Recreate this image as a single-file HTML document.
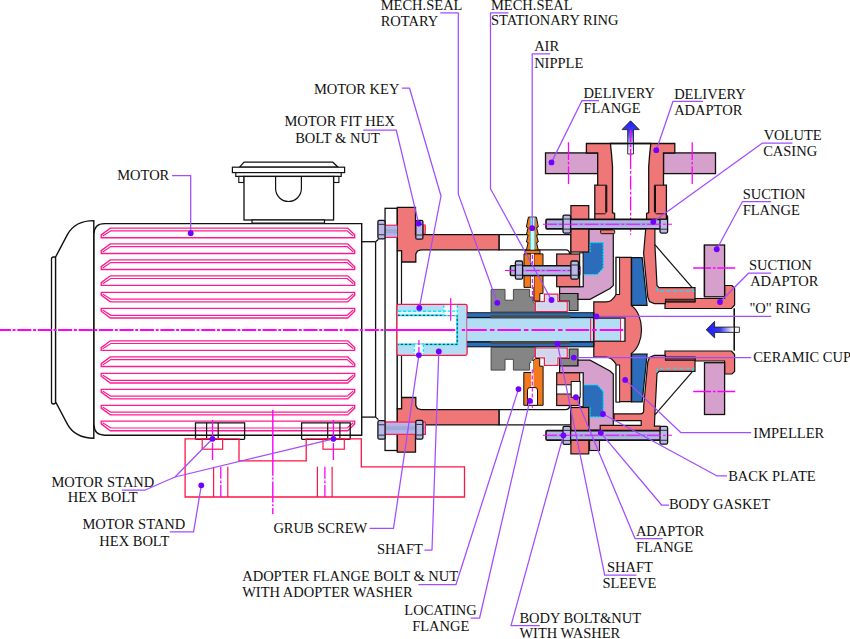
<!DOCTYPE html>
<html><head><meta charset="utf-8"><style>
html,body{margin:0;padding:0;background:#fff;}
svg{display:block;}
text{font-family:"Liberation Serif",serif;font-size:14.5px;fill:#111;}
</style></head><body>
<svg width="850" height="639" viewBox="0 0 850 639">
<rect x="0" y="0" width="850" height="639" fill="#fff"/>
<defs>
<linearGradient id="gb" x1="0" y1="0" x2="0" y2="1">
<stop offset="0" stop-color="#B9B9EE"/><stop offset="0.3" stop-color="#B3B3EA"/><stop offset="0.42" stop-color="#9AA6D2"/>
<stop offset="0.5" stop-color="#A9A9E0"/><stop offset="0.58" stop-color="#9AA6D2"/><stop offset="0.7" stop-color="#B3B3EA"/><stop offset="1" stop-color="#B9B9EE"/>
</linearGradient></defs>
<path d="M51.5,402 L51.5,259 Q51.5,257 53.5,257 L55.6,257 L55.6,402 Q55.6,404 53.5,404 Q51.5,404 51.5,402 Z" fill="#fff" stroke="#111" stroke-width="1.3" />
<path d="M55.6,257 L67.5,234.4 C72.5,225.5 82,220.6 93.8,220.6 L93.8,438.2 L93.8,438.2 C82,438.2 72.5,433.3 67.5,424.4 L55.6,401.8 Z" fill="#fff" stroke="#111" stroke-width="1.4" />
<path d="M94,234.2 Q94,223.6 104.6,223.6 L361.7,223.6 L361.7,435.2 L104.6,435.2 Q94,435.2 94,424.6 Z" fill="#fff" stroke="#111" stroke-width="1.4" />
<polygon points="110.3,228.1 347.8,228.1 354.7,234.9 354.7,237.7 101.2,237.7 101.2,234.9" fill="none" stroke="#FF1A90" stroke-width="1.35" />
<polyline points="102.6,236.1 110.9,230.8 347.2,230.8 353.3,236.1" fill="none" stroke="#FF1A90" stroke-width="1.2" />
<polygon points="110.3,430.7 347.8,430.7 354.7,423.9 354.7,421.1 101.2,421.1 101.2,423.9" fill="none" stroke="#FF1A90" stroke-width="1.35" />
<polyline points="102.6,422.7 110.9,428 347.2,428 353.3,422.7" fill="none" stroke="#FF1A90" stroke-width="1.2" />
<polygon points="110.3,243.9 347.8,243.9 354.7,250.7 354.7,253.5 101.2,253.5 101.2,250.7" fill="none" stroke="#FF1A90" stroke-width="1.35" />
<polyline points="102.6,251.9 110.9,246.6 347.2,246.6 353.3,251.9" fill="none" stroke="#FF1A90" stroke-width="1.2" />
<polygon points="110.3,414.9 347.8,414.9 354.7,408.1 354.7,405.3 101.2,405.3 101.2,408.1" fill="none" stroke="#FF1A90" stroke-width="1.35" />
<polyline points="102.6,406.9 110.9,412.2 347.2,412.2 353.3,406.9" fill="none" stroke="#FF1A90" stroke-width="1.2" />
<polygon points="110.3,259.9 347.8,259.9 354.7,266.7 354.7,269.5 101.2,269.5 101.2,266.7" fill="none" stroke="#FF1A90" stroke-width="1.35" />
<polyline points="102.6,267.9 110.9,262.6 347.2,262.6 353.3,267.9" fill="none" stroke="#FF1A90" stroke-width="1.2" />
<polygon points="110.3,398.9 347.8,398.9 354.7,392.1 354.7,389.3 101.2,389.3 101.2,392.1" fill="none" stroke="#FF1A90" stroke-width="1.35" />
<polyline points="102.6,390.9 110.9,396.2 347.2,396.2 353.3,390.9" fill="none" stroke="#FF1A90" stroke-width="1.2" />
<polygon points="110.3,275.8 347.8,275.8 354.7,282.6 354.7,285.4 101.2,285.4 101.2,282.6" fill="none" stroke="#FF1A90" stroke-width="1.35" />
<polyline points="102.6,283.8 110.9,278.5 347.2,278.5 353.3,283.8" fill="none" stroke="#FF1A90" stroke-width="1.2" />
<polygon points="110.3,383 347.8,383 354.7,376.2 354.7,373.4 101.2,373.4 101.2,376.2" fill="none" stroke="#FF1A90" stroke-width="1.35" />
<polyline points="102.6,375 110.9,380.3 347.2,380.3 353.3,375" fill="none" stroke="#FF1A90" stroke-width="1.2" />
<polygon points="110.3,301.9 347.8,301.9 354.7,295.1 354.7,292.3 101.2,292.3 101.2,295.1" fill="none" stroke="#FF1A90" stroke-width="1.35" />
<polyline points="102.6,293.9 110.9,299.2 347.2,299.2 353.3,293.9" fill="none" stroke="#FF1A90" stroke-width="1.2" />
<polygon points="110.3,356.9 347.8,356.9 354.7,363.7 354.7,366.5 101.2,366.5 101.2,363.7" fill="none" stroke="#FF1A90" stroke-width="1.35" />
<polyline points="102.6,364.9 110.9,359.6 347.2,359.6 353.3,364.9" fill="none" stroke="#FF1A90" stroke-width="1.2" />
<polygon points="110.3,318 347.8,318 354.7,311.2 354.7,308.4 101.2,308.4 101.2,311.2" fill="none" stroke="#FF1A90" stroke-width="1.35" />
<polyline points="102.6,310 110.9,315.3 347.2,315.3 353.3,310" fill="none" stroke="#FF1A90" stroke-width="1.2" />
<polygon points="110.3,340.8 347.8,340.8 354.7,347.6 354.7,350.4 101.2,350.4 101.2,347.6" fill="none" stroke="#FF1A90" stroke-width="1.35" />
<polyline points="102.6,348.8 110.9,343.5 347.2,343.5 353.3,348.8" fill="none" stroke="#FF1A90" stroke-width="1.2" />
<path d="M244.1,162.2 L332.8,162.2 L338.1,167.2 L239.5,167.2 Z" fill="#fff" stroke="#111" stroke-width="1.2" />
<rect x="232.4" y="167.2" width="112.2" height="5.4" rx="0" fill="#fff" stroke="#111" stroke-width="1.2" />
<rect x="235.8" y="172.6" width="105.4" height="3.8" rx="0" fill="#fff" stroke="#111" stroke-width="1.2" />
<rect x="238.8" y="176.4" width="5.2" height="6.1" rx="0" fill="#fff" stroke="#111" stroke-width="1.1" />
<rect x="333.6" y="176.4" width="5.3" height="6.1" rx="0" fill="#fff" stroke="#111" stroke-width="1.1" />
<rect x="244" y="176.4" width="89.6" height="43.6" rx="0" fill="#fff" stroke="#111" stroke-width="1.3" />
<path d="M275.6,176.4 L275.6,188.6 A12.9,12.9 0 0 0 301.4,188.6 L301.4,176.4" fill="none" stroke="#111" stroke-width="1.2" />
<rect x="252" y="220" width="72.5" height="3.1" rx="0" fill="#fff" stroke="#111" stroke-width="1.2" />
<path d="M195.5,439.3 L195.5,422.8 L244.6,422.8 L244.6,439.3" fill="none" stroke="#111" stroke-width="1.3" />
<line x1="206.6" y1="422.8" x2="206.6" y2="439.3" stroke="#111" stroke-width="1.2" />
<line x1="218.2" y1="422.8" x2="218.2" y2="439.3" stroke="#111" stroke-width="1.2" />
<line x1="195.5" y1="439.3" x2="244.6" y2="439.3" stroke="#111" stroke-width="1.2" />
<path d="M301.6,439.3 L301.6,422.8 L350.2,422.8 L350.2,439.3" fill="none" stroke="#111" stroke-width="1.3" />
<line x1="327.7" y1="422.8" x2="327.7" y2="439.3" stroke="#111" stroke-width="1.2" />
<line x1="339.9" y1="422.8" x2="339.9" y2="439.3" stroke="#111" stroke-width="1.2" />
<line x1="301.6" y1="439.3" x2="350.2" y2="439.3" stroke="#111" stroke-width="1.2" />
<polygon points="185.1,438.8 239,438.8 239,460.8 306.2,460.8 306.2,438.8 361.3,438.8 361.3,466.8 464.5,466.8 464.5,497 185.1,497" fill="none" stroke="#FF1446" stroke-width="1.3" />
<rect x="202.2" y="438.8" width="20.4" height="10.4" rx="0" fill="none" stroke="#FF1446" stroke-width="1.2" />
<rect x="323" y="438.8" width="21.3" height="10.4" rx="0" fill="none" stroke="#FF1446" stroke-width="1.2" />
<line x1="213.6" y1="466.8" x2="213.6" y2="497" stroke="#FF1446" stroke-width="1.2" />
<line x1="227.8" y1="466.8" x2="227.8" y2="497" stroke="#FF1446" stroke-width="1.2" />
<line x1="317.4" y1="466.8" x2="317.4" y2="497" stroke="#FF1446" stroke-width="1.2" />
<line x1="332.1" y1="466.8" x2="332.1" y2="497" stroke="#FF1446" stroke-width="1.2" />
<line x1="220.8" y1="466.8" x2="220.8" y2="497" stroke="#FF00FF" stroke-width="1.3" stroke-dasharray="12.00 1.8 2.6 1.8 17.00"/>
<line x1="324.9" y1="466.8" x2="324.9" y2="497" stroke="#FF00FF" stroke-width="1.3" stroke-dasharray="12.00 1.8 2.6 1.8 17.00"/>
<line x1="212.5" y1="420" x2="212.5" y2="460" stroke="#FF00FF" stroke-width="1.3" stroke-dasharray="16.90 1.8 2.6 1.8 21.90"/>
<line x1="333.4" y1="420" x2="333.4" y2="460" stroke="#FF00FF" stroke-width="1.3" stroke-dasharray="16.90 1.8 2.6 1.8 21.90"/>
<line x1="272.8" y1="409.8" x2="272.8" y2="513.9" stroke="#FF00FF" stroke-width="1.4" stroke-dasharray="66 1.8 2 1.8 21 1.8 2 1.8"/>
<line x1="361.7" y1="241.7" x2="375.6" y2="241.7" stroke="#111" stroke-width="1.3" />
<line x1="361.7" y1="417.1" x2="375.6" y2="417.1" stroke="#111" stroke-width="1.3" />
<line x1="375.6" y1="241.7" x2="378.5" y2="239.2" stroke="#111" stroke-width="1.2" />
<line x1="375.6" y1="417.1" x2="378.5" y2="419.6" stroke="#111" stroke-width="1.2" />
<line x1="375.6" y1="241.7" x2="375.6" y2="417.1" stroke="#111" stroke-width="1.3" />
<rect x="385.05" y="208.3" width="12.25" height="242.2" rx="0" fill="#fff" stroke="#111" stroke-width="1.3" />
<polygon points="397.3,207.3 415.5,207.3 415.5,234.6 499.2,234.6 499.2,249.8 421,249.8 417.5,251 415.8,254 415.8,262 401.5,262 401.5,250.8 397.3,250.8" fill="#F07777" stroke="#111" stroke-width="1.3" />
<polygon points="397.3,452.2 415.5,452.2 415.5,424.9 499.2,424.9 499.2,409.7 421,409.7 417.5,408.5 415.8,405.5 415.8,397.5 401.5,397.5 401.5,408.7 397.3,408.7" fill="#F07777" stroke="#111" stroke-width="1.3" />
<rect x="397.3" y="250.8" width="4.2" height="157.9" rx="0" fill="#fff" stroke="#111" stroke-width="1.2" />
<path d="M499.2,234.6 L570.9,234.6 L570.9,253.9 L569.6,253.9 Q569.6,249.8 565.5,249.8 L499.2,249.8 Z" fill="#fff" stroke="#111" stroke-width="1.3" />
<path d="M499.2,424.9 L570.9,424.9 L570.9,405.6 L569.6,405.6 Q569.6,409.7 565.5,409.7 L499.2,409.7 Z" fill="#fff" stroke="#111" stroke-width="1.3" />
<rect x="385.05" y="225.2" width="12.25" height="12.2" rx="0" fill="url(#gb)" stroke="none" stroke-width="0" />
<line x1="385.05" y1="225.2" x2="397.3" y2="225.2" stroke="#FF1446" stroke-width="1.1" />
<line x1="385.05" y1="237.4" x2="397.3" y2="237.4" stroke="#FF1446" stroke-width="1.1" />
<rect x="422.9" y="224.9" width="2.5" height="8.7" rx="0" fill="#F07777" stroke="#FF1446" stroke-width="0.8" />
<rect x="385.05" y="422.1" width="12.25" height="12.2" rx="0" fill="url(#gb)" stroke="none" stroke-width="0" />
<line x1="385.05" y1="434.3" x2="397.3" y2="434.3" stroke="#FF1446" stroke-width="1.1" />
<line x1="385.05" y1="422.1" x2="397.3" y2="422.1" stroke="#FF1446" stroke-width="1.1" />
<rect x="422.9" y="425.9" width="2.5" height="8.7" rx="0" fill="#F07777" stroke="#FF1446" stroke-width="0.8" />
<rect x="385.05" y="422.1" width="40.35" height="12.2" rx="0" fill="url(#gb)" stroke="#FF1446" stroke-width="1.1" />
<rect x="377.9" y="220.3" width="7.15" height="18.5" rx="1.5" fill="#B9B9EA" stroke="#111" stroke-width="1.3" />
<line x1="378.4" y1="224.37" x2="384.55" y2="224.37" stroke="#222" stroke-width="0.9" />
<line x1="378.4" y1="234.73" x2="384.55" y2="234.73" stroke="#222" stroke-width="0.9" />
<rect x="377.9" y="420.7" width="7.15" height="18.5" rx="1.5" fill="#B9B9EA" stroke="#111" stroke-width="1.3" />
<line x1="378.4" y1="424.77" x2="384.55" y2="424.77" stroke="#222" stroke-width="0.9" />
<line x1="378.4" y1="435.13" x2="384.55" y2="435.13" stroke="#222" stroke-width="0.9" />
<rect x="415.8" y="220.3" width="7.1" height="18.9" rx="1.5" fill="#B9B9EA" stroke="#111" stroke-width="1.3" />
<line x1="416.3" y1="224.46" x2="422.4" y2="224.46" stroke="#222" stroke-width="0.9" />
<line x1="416.3" y1="235.04" x2="422.4" y2="235.04" stroke="#222" stroke-width="0.9" />
<rect x="415.8" y="420.3" width="7.1" height="18.9" rx="1.5" fill="#B9B9EA" stroke="#111" stroke-width="1.3" />
<line x1="416.3" y1="424.46" x2="422.4" y2="424.46" stroke="#222" stroke-width="0.9" />
<line x1="416.3" y1="435.04" x2="422.4" y2="435.04" stroke="#222" stroke-width="0.9" />
<rect x="397" y="304.3" width="70.1" height="51" rx="1.8" fill="#B2DDF4" stroke="#FF1446" stroke-width="1.3" />
<rect x="397.8" y="315.3" width="59.4" height="29" rx="0" fill="#fff" stroke="none" stroke-width="0" />
<rect x="397.8" y="311.2" width="45.4" height="4.1" rx="0" fill="#E6F6FB" stroke="none" stroke-width="0" />
<line x1="397.8" y1="311.2" x2="443.2" y2="311.2" stroke="#12E0FF" stroke-width="1.6" stroke-dasharray="3.5 1.5"/>
<polyline points="397.8,315.3 457.2,315.3 457.2,344.3 397.8,344.3" fill="none" stroke="#12E0FF" stroke-width="1.8" />
<polyline points="397.8,315.3 457.2,315.3 457.2,344.3 397.8,344.3" fill="none" stroke="#222" stroke-width="1.0" stroke-dasharray="2 2.2"/>
<rect x="443.2" y="304.9" width="14.8" height="10.4" rx="0" fill="#F0FAFD" stroke="none" stroke-width="0" />
<line x1="443.8" y1="304.9" x2="443.8" y2="315.3" stroke="#12E0FF" stroke-width="1.3" stroke-dasharray="3 1.5"/>
<line x1="457.4" y1="304.9" x2="457.4" y2="315.3" stroke="#12E0FF" stroke-width="1.3" stroke-dasharray="3 1.5"/>
<line x1="443.2" y1="311.2" x2="458" y2="311.2" stroke="#12E0FF" stroke-width="1.2" stroke-dasharray="3 1.5"/>
<rect x="413.6" y="344.3" width="10.4" height="10.4" rx="0" fill="#F0FAFD" stroke="none" stroke-width="0" />
<line x1="414.2" y1="344.3" x2="414.2" y2="354.7" stroke="#12E0FF" stroke-width="1.3" stroke-dasharray="3 1.5"/>
<line x1="423.4" y1="344.3" x2="423.4" y2="354.7" stroke="#12E0FF" stroke-width="1.3" stroke-dasharray="3 1.5"/>
<line x1="450.7" y1="298" x2="450.7" y2="320.8" stroke="#FF00FF" stroke-width="1.2" />
<line x1="418.9" y1="340" x2="418.9" y2="355" stroke="#FF00FF" stroke-width="1.2" stroke-dasharray="5 2"/>
<rect x="467.1" y="312.2" width="126.7" height="35.1" rx="0" fill="#111" stroke="none" stroke-width="0" />
<rect x="467.1" y="313.2" width="126.7" height="3.7" rx="0" fill="#2B6DBA" stroke="none" stroke-width="0" />
<rect x="467.1" y="342.6" width="126.7" height="3.7" rx="0" fill="#2B6DBA" stroke="none" stroke-width="0" />
<rect x="467.1" y="318.4" width="126.7" height="22.7" rx="0" fill="#B2DDF4" stroke="none" stroke-width="0" />
<line x1="467.1" y1="318.6" x2="593.8" y2="318.6" stroke="#8DF" stroke-width="0.6" />
<rect x="490.6" y="315.3" width="79.6" height="3" rx="0" fill="#4a4a4a" stroke="none" stroke-width="0" />
<rect x="490.6" y="341.2" width="79.6" height="3" rx="0" fill="#4a4a4a" stroke="none" stroke-width="0" />
<polygon points="491.1,289.4 505,289.4 505,300.2 513.4,300.2 513.4,289.4 529.6,289.4 529.6,297 533,297 533,302 535.7,304 535.7,312 491.1,312" fill="#858585" stroke="#4a4a4a" stroke-width="1.0" />
<polygon points="491.1,370.1 505,370.1 505,359.3 513.4,359.3 513.4,370.1 529.6,370.1 529.6,362.5 533,362.5 533,357.5 535.7,355.5 535.7,347.5 491.1,347.5" fill="#858585" stroke="#4a4a4a" stroke-width="1.0" />
<polygon points="559.6,293.5 578,293.5 578,310.5 569.2,310.5 569.2,301 559.6,301" fill="#858585" stroke="#222" stroke-width="1.1" />
<polygon points="559.6,366 578,366 578,349 569.2,349 569.2,358.5 559.6,358.5" fill="#858585" stroke="#222" stroke-width="1.1" />
<polygon points="535.3,301.6 544.4,301.6 544.4,294.2 557.9,294.2 557.9,301.6 567.2,301.6 567.2,311.5 535.3,311.5" fill="#D4D4EC" stroke="#FF1446" stroke-width="1.2" />
<polygon points="535.3,357.9 544.4,357.9 544.4,365.3 557.9,365.3 557.9,357.9 567.2,357.9 567.2,348 535.3,348" fill="#D4D4EC" stroke="#FF1446" stroke-width="1.2" />
<polygon points="536.6,302.9 545.7,302.9 545.7,295.5 556.6,295.5 556.6,302.9 565.9,302.9 565.9,310.2 536.6,310.2" fill="none" stroke="#BDF3FA" stroke-width="0.8" />
<polygon points="536.6,356.6 545.7,356.6 545.7,364 556.6,364 556.6,356.6 565.9,356.6 565.9,349.3 536.6,349.3" fill="none" stroke="#BDF3FA" stroke-width="0.8" />
<polygon points="588.75,229.4 611.9,229.4 613.3,231.5 613.3,285.5 610,288.5 590,299.4 578,299.4 578,293.5 559.6,293.5 559.6,286.7 583.1,286.7 583.1,252 588.75,252" fill="#D5A0CB" stroke="#111" stroke-width="1.2" />
<polygon points="588.75,430.1 611.9,430.1 613.3,428 613.3,374 610,371 590,360.1 578,360.1 578,366 559.6,366 559.6,372.8 583.1,372.8 583.1,407.5 588.75,407.5" fill="#D5A0CB" stroke="#111" stroke-width="1.2" />
<rect x="589.6" y="440" width="9.9" height="10.5" rx="0" fill="#D5A0CB" stroke="#111" stroke-width="1.1" />
<polygon points="590,242.6 603.3,242.6 603.3,268 597.5,274.6 583.5,274.6 583.5,252 590,252" fill="#2B6DBA" stroke="none" stroke-width="0" />
<polyline points="590,252 590,242.6 603.3,242.6 603.3,268 597.5,274.6 583.5,274.6" fill="none" stroke="#12E0FF" stroke-width="1.3" stroke-dasharray="2 1"/>
<polygon points="590,416.9 603.3,416.9 603.3,391.5 597.5,384.9 583.5,384.9 583.5,407.5 590,407.5" fill="#2B6DBA" stroke="none" stroke-width="0" />
<polyline points="590,407.5 590,416.9 603.3,416.9 603.3,391.5 597.5,384.9 583.5,384.9" fill="none" stroke="#12E0FF" stroke-width="1.3" stroke-dasharray="2 1"/>
<rect x="570.9" y="205.6" width="17.85" height="46.4" rx="0" fill="#F07777" stroke="#111" stroke-width="1.2" />
<rect x="570.9" y="407.5" width="17.85" height="46.4" rx="0" fill="#F07777" stroke="#111" stroke-width="1.2" />
<rect x="556.7" y="254" width="23" height="32.7" rx="0" fill="#F07777" stroke="#111" stroke-width="1.2" />
<rect x="556.7" y="372.8" width="23" height="32.7" rx="0" fill="#F07777" stroke="#111" stroke-width="1.2" />
<rect x="579.7" y="252.9" width="3.4" height="33.8" rx="0" fill="#fff" stroke="#111" stroke-width="1.0" />
<rect x="579.7" y="372.8" width="3.4" height="33.8" rx="0" fill="#fff" stroke="#111" stroke-width="1.0" />
<rect x="556.7" y="384.8" width="14.5" height="9.2" rx="0" fill="#fff" stroke="#111" stroke-width="1.0" />
<rect x="571.2" y="381.5" width="9" height="15.8" rx="0" fill="#fff" stroke="#111" stroke-width="1.0" />
<path d="M528.4,217.1 L536.4,217.1 L538.3,227 L536.6,227.6 L538.3,234.5 L536.6,235.1 L538.3,242 L536.6,242.6 L538.3,250.2 L526.4,250.2 L528.1,242.6 L526.4,242 L528.1,235.1 L526.4,234.5 L528.1,227.6 L526.4,227 Z" fill="#F27A1C" stroke="#111" stroke-width="1.0" />
<rect x="530.3" y="217.5" width="4.3" height="32.5" rx="0" fill="#D8FAFF" stroke="none" stroke-width="0" />
<line x1="530.5" y1="217.5" x2="530.5" y2="250" stroke="#12E0FF" stroke-width="0.9" />
<line x1="534.4" y1="217.5" x2="534.4" y2="250" stroke="#12E0FF" stroke-width="0.9" />
<rect x="525.1" y="250.2" width="14.9" height="3.7" rx="0" fill="#F27A1C" stroke="#111" stroke-width="1.0" />
<path d="M524,253.9 L531,253.9 L531,287.4 L524,287.4 Z" fill="#F27A1C" stroke="#111" stroke-width="1.0" />
<path d="M533.9,253.9 L543,253.9 L543,293.6 L539.8,293.6 L539.8,301 L533.9,301 Z" fill="#F27A1C" stroke="#111" stroke-width="1.0" />
<rect x="531" y="253.9" width="2.9" height="33.1" rx="0" fill="#E8FCFF" stroke="none" stroke-width="0" />
<line x1="532.4" y1="255" x2="532.4" y2="300" stroke="#FF00FF" stroke-width="1.1" stroke-dasharray="4 2"/>
<path d="M533.5,360.2 L535.5,358.5 L539.7,358.5 L539.7,366.2 L543.1,366.2 L543.1,405.3 L523.8,405.3 L523.8,372.5 L533.5,372.5 Z" fill="#F27A1C" stroke="#111" stroke-width="1.0" />
<rect x="531.2" y="361" width="2.3" height="27" rx="0" fill="#fff" stroke="none" stroke-width="0" />
<path d="M527.5,405.3 L527.5,390 Q527.5,387.5 530,387.5 L535,387.5 Q537.5,387.5 537.5,390 L537.5,405.3 Z" fill="#fff" stroke="#111" stroke-width="1.0" />
<line x1="532.3" y1="369.4" x2="532.3" y2="408" stroke="#FF00FF" stroke-width="1.1" stroke-dasharray="4 2"/>
<rect x="510.4" y="265.7" width="69.3" height="9.7" rx="1" fill="url(#gb)" stroke="#111" stroke-width="1.5" />
<line x1="505" y1="270.5" x2="581" y2="270.5" stroke="#FF00FF" stroke-width="1.1" stroke-dasharray="14 2 2.8 2"/>
<rect x="515.4" y="261" width="7.2" height="18.2" rx="1.5" fill="#B9B9EA" stroke="#111" stroke-width="1.3" />
<line x1="515.9" y1="265" x2="522.1" y2="265" stroke="#222" stroke-width="0.9" />
<line x1="515.9" y1="275.2" x2="522.1" y2="275.2" stroke="#222" stroke-width="0.9" />
<rect x="570.9" y="261" width="7.5" height="18.2" rx="1.5" fill="#B9B9EA" stroke="#111" stroke-width="1.3" />
<line x1="571.4" y1="265" x2="577.9" y2="265" stroke="#222" stroke-width="0.9" />
<line x1="571.4" y1="275.2" x2="577.9" y2="275.2" stroke="#222" stroke-width="0.9" />
<line x1="630.6" y1="155" x2="630.6" y2="234.8" stroke="#FF00FF" stroke-width="1.3" stroke-dasharray="14 2 2.8 2"/>
<rect x="546" y="219.4" width="116" height="9.5" rx="1" fill="url(#gb)" stroke="#111" stroke-width="1.6" />
<rect x="563" y="215.1" width="7.6" height="18" rx="1.5" fill="#B9B9EA" stroke="#111" stroke-width="1.3" />
<line x1="563.5" y1="219.06" x2="570.1" y2="219.06" stroke="#222" stroke-width="0.9" />
<line x1="563.5" y1="229.14" x2="570.1" y2="229.14" stroke="#222" stroke-width="0.9" />
<rect x="660" y="215.3" width="7.6" height="17.8" rx="1.5" fill="#B9B9EA" stroke="#111" stroke-width="1.3" />
<line x1="660.5" y1="219.22" x2="667.1" y2="219.22" stroke="#222" stroke-width="0.9" />
<line x1="660.5" y1="229.18" x2="667.1" y2="229.18" stroke="#222" stroke-width="0.9" />
<line x1="543" y1="224.2" x2="672" y2="224.2" stroke="#FF00FF" stroke-width="1.1" stroke-dasharray="14 2 2.8 2"/>
<rect x="546" y="430.6" width="116" height="9.5" rx="1" fill="url(#gb)" stroke="#111" stroke-width="1.6" />
<rect x="563" y="426.4" width="7.6" height="18" rx="1.5" fill="#B9B9EA" stroke="#111" stroke-width="1.3" />
<line x1="563.5" y1="430.36" x2="570.1" y2="430.36" stroke="#222" stroke-width="0.9" />
<line x1="563.5" y1="440.44" x2="570.1" y2="440.44" stroke="#222" stroke-width="0.9" />
<rect x="660" y="426.4" width="7.6" height="17.8" rx="1.5" fill="#B9B9EA" stroke="#111" stroke-width="1.3" />
<line x1="660.5" y1="430.32" x2="667.1" y2="430.32" stroke="#222" stroke-width="0.9" />
<line x1="660.5" y1="440.28" x2="667.1" y2="440.28" stroke="#222" stroke-width="0.9" />
<line x1="543" y1="435.3" x2="672" y2="435.3" stroke="#FF00FF" stroke-width="1.1" stroke-dasharray="14 2 2.8 2"/>
<rect x="600.6" y="229.9" width="14.1" height="3.8" rx="1" fill="#F07777" stroke="#111" stroke-width="1.0" />
<polygon points="665,298.5 724.6,298.5 724.6,285.5 732,285.5 734.6,288 734.6,305 731.5,308.5 665,308.5" fill="#F07777" stroke="#111" stroke-width="1.2" />
<polygon points="665,361 724.6,361 724.6,374 732,374 734.6,371.5 734.6,354.5 731.5,351 665,351" fill="#F07777" stroke="#111" stroke-width="1.2" />
<polygon points="645.7,229 654.9,229 654.9,244.7 657,285.5 659,287.7 695,287.7 695,301.8 665.4,301.8 665.4,303.6 654.2,303.6 649.5,301.5 647.8,297 643.6,253.2" fill="#F07777" stroke="#111" stroke-width="1.2" />
<path d="M647.8,362 L643.7,405.8 L643.7,410.5 Q643.7,413.9 640.3,413.9 L614,413.9 L614,420.6 L641.2,420.6 L641.2,425.4 L600.2,425.4 L600.2,430.4 L660,430.4 L660,426.2 L654.4,426.2 L654.9,414.3 L657,373.5 L659,371.3 L695,371.3 L695,357.2 L665.4,357.2 L665.4,355.4 L654.2,355.4 L649.5,357.5 Z" fill="#F07777" stroke="#111" stroke-width="1.2" />
<rect x="665.4" y="299.2" width="29.6" height="2.6" rx="0" fill="#7a3a3a" stroke="#111" stroke-width="0.9" />
<rect x="665.4" y="357.7" width="29.6" height="2.6" rx="0" fill="#7a3a3a" stroke="#111" stroke-width="0.9" />
<line x1="654.9" y1="244.7" x2="692.2" y2="287.7" stroke="#111" stroke-width="1.2" />
<line x1="654.9" y1="414.8" x2="692.2" y2="371.8" stroke="#111" stroke-width="1.2" />
<polyline points="657,287.3 657.5,291.2 693.6,291.2 692,287.9" fill="none" stroke="#12E0FF" stroke-width="1.3" stroke-dasharray="4 2.5"/>
<polyline points="657,372.2 657.5,368.3 693.6,368.3 692,371.6" fill="none" stroke="#12E0FF" stroke-width="1.3" stroke-dasharray="4 2.5"/>
<path d="M616.1,257.4 L631.3,257.4 L631.3,305.5 C638,310 641.5,320 641.5,329.5 C641.5,339 638,349 631.3,353.5 L631.3,401.6 L616.1,401.6 L616.1,364.5 Q612,357.1 606,357.1 L593.8,357.1 L593.8,301.9 L606,301.9 Q612,301.9 616.1,294.5 Z" fill="#F07777" stroke="#111" stroke-width="1.2" />
<rect x="616.1" y="257.4" width="3.5" height="37.1" rx="0" fill="#fff" stroke="#111" stroke-width="1.0" />
<rect x="616.1" y="365" width="3.5" height="37.1" rx="0" fill="#fff" stroke="#111" stroke-width="1.0" />
<polygon points="631.6,257.7 642.2,257.7 647.1,305.3 631.6,305.3" fill="#2B6DBA" stroke="#111" stroke-width="1.2" />
<polygon points="631.6,401.8 642.2,401.8 647.1,354.2 631.6,354.2" fill="#2B6DBA" stroke="#111" stroke-width="1.2" />
<rect x="593.8" y="318.1" width="31.2" height="23.1" rx="0" fill="#B2DDF4" stroke="#111" stroke-width="1.2" />
<rect x="621" y="318.8" width="2.6" height="21.8" rx="0" fill="#fff" stroke="none" stroke-width="0" />
<line x1="590.6" y1="318.4" x2="590.6" y2="341" stroke="#FF1446" stroke-width="1.0" />
<line x1="594.4" y1="318.4" x2="594.4" y2="341" stroke="#FF1446" stroke-width="1.0" />
<line x1="620.6" y1="318.4" x2="620.6" y2="341" stroke="#FF1446" stroke-width="1.0" />
<line x1="593.8" y1="312.2" x2="593.8" y2="318.1" stroke="#111" stroke-width="1.2" />
<line x1="593.8" y1="341.2" x2="593.8" y2="346.8" stroke="#111" stroke-width="1.2" />
<rect x="545.5" y="152.9" width="52.2" height="20.7" rx="0" fill="#D5A0CB" stroke="#111" stroke-width="1.3" />
<rect x="663.5" y="152.9" width="52" height="20.7" rx="0" fill="#D5A0CB" stroke="#111" stroke-width="1.3" />
<polygon points="650.8,143.5 674.8,143.5 674.8,153 663.5,153 663.5,185.2 666.4,185.2 666.4,219.1 646.6,219.1 646.6,213.4 648.7,212.7 648.7,166.8 649.6,155" fill="#F07777" stroke="#111" stroke-width="1.3" />
<polygon points="610.4,143.5 586.4,143.5 586.4,153 597.7,153 597.7,185.2 594.8,185.2 594.8,219.1 614.6,219.1 614.6,213.4 612.5,212.7 612.5,166.8 611.6,155" fill="#F07777" stroke="#111" stroke-width="1.3" />
<polyline points="663.5,185.2 654.4,185.2 654.4,212 656.5,213.8 666.4,213.8" fill="none" stroke="#111" stroke-width="1.0" />
<line x1="655.2" y1="185.5" x2="655.2" y2="212" stroke="#111" stroke-width="1.6" />
<polyline points="597.7,185.2 606.8,185.2 606.8,212 604.7,213.8 594.8,213.8" fill="none" stroke="#111" stroke-width="1.0" />
<line x1="606" y1="185.5" x2="606" y2="212" stroke="#111" stroke-width="1.6" />
<line x1="610.4" y1="143.5" x2="650.8" y2="143.5" stroke="#111" stroke-width="1.3" />
<line x1="674.8" y1="143.5" x2="690" y2="143.5" stroke="#111" stroke-width="0.0" />
<line x1="568.5" y1="142.2" x2="568.5" y2="184" stroke="#FF00FF" stroke-width="1.3" stroke-dasharray="17.80 1.8 2.6 1.8 22.80"/>
<line x1="692.2" y1="142.2" x2="692.2" y2="184" stroke="#FF00FF" stroke-width="1.3" stroke-dasharray="17.80 1.8 2.6 1.8 22.80"/>
<rect x="704.5" y="245" width="20.1" height="51.8" rx="0" fill="#D5A0CB" stroke="#111" stroke-width="1.3" />
<rect x="704.5" y="362.7" width="20.1" height="51.8" rx="0" fill="#D5A0CB" stroke="#111" stroke-width="1.3" />
<line x1="693.2" y1="268" x2="735.2" y2="268" stroke="#FF00FF" stroke-width="1.3" stroke-dasharray="17.90 1.8 2.6 1.8 22.90"/>
<line x1="693.2" y1="391.5" x2="735.2" y2="391.5" stroke="#FF00FF" stroke-width="1.3" stroke-dasharray="17.90 1.8 2.6 1.8 22.90"/>
<line x1="734.3" y1="308.5" x2="734.3" y2="350.5" stroke="#111" stroke-width="1.3" />
<line x1="704.3" y1="244.7" x2="704.3" y2="296.8" stroke="#111" stroke-width="1.2" />
<defs>
<linearGradient id="gu" x1="0" y1="0" x2="0" y2="1"><stop offset="0" stop-color="#2020F2"/><stop offset="0.3" stop-color="#3A3AF2"/><stop offset="0.65" stop-color="#A8A8F8"/><stop offset="1" stop-color="#FFFFFF"/></linearGradient>
<linearGradient id="gl" x1="0" y1="0" x2="1" y2="0"><stop offset="0" stop-color="#1A1AF5"/><stop offset="0.42" stop-color="#3A3AF2"/><stop offset="0.82" stop-color="#FFFFFF"/><stop offset="1" stop-color="#FFFFFF"/></linearGradient>
</defs>
<path d="M630.6,120.8 L639.2,129.6 L633.5,129.6 L633.5,154 L627.7,154 L627.7,129.6 L622,129.6 Z" fill="url(#gu)" stroke="#222" stroke-width="0.9" />
<line x1="610.4" y1="143.5" x2="650.8" y2="143.5" stroke="#111" stroke-width="1.3" />
<line x1="630.6" y1="130" x2="630.6" y2="156" stroke="#FF00FF" stroke-width="1.3" stroke-dasharray="12 2 3 2"/>
<path d="M706.2,329.7 L714.6,321.3 L714.6,327.1 L739.4,327.1 L739.4,332.4 L714.6,332.4 L714.6,337.9 Z" fill="url(#gl)" stroke="#222" stroke-width="0.9" />
<line x1="734.3" y1="308.5" x2="734.3" y2="350.5" stroke="#111" stroke-width="1.3" />
<line x1="0" y1="329.9" x2="384.2" y2="329.9" stroke="#FF00FF" stroke-width="2.0" stroke-dasharray="14.1 1.7 2.9 1.74" stroke-dashoffset="3.17"/>
<line x1="386.1" y1="329.9" x2="455.3" y2="329.9" stroke="#FF00FF" stroke-width="2.0" />
<line x1="461.9" y1="329.9" x2="624" y2="329.9" stroke="#FF00FF" stroke-width="2.0" stroke-dasharray="3.3 1.7 19.9 3.1 4.6 2.9 23.5 3 4.6 3 23.5 3 4.6 3 23.5 3 4.6 3 23.5 3 4.6 3 23.5 3 4.6 3 23.5"/>
<polyline points="172.1,175.5 190.7,175.5 190.7,233.2" fill="none" stroke="#A24CFF" stroke-width="1.25" stroke-linejoin="round"/>
<polyline points="402,88 409.5,88 441,196 419.3,307.9" fill="none" stroke="#A24CFF" stroke-width="1.25" stroke-linejoin="round"/>
<polyline points="363.25,130 396.25,130 418.7,223.6" fill="none" stroke="#A24CFF" stroke-width="1.25" stroke-linejoin="round"/>
<polyline points="440.25,12.8 458.3,12.8 458.3,194.1 497.3,302.8" fill="none" stroke="#A24CFF" stroke-width="1.25" stroke-linejoin="round"/>
<polyline points="508.4,12.8 490.5,12.8 490.5,188.7 551.5,300" fill="none" stroke="#A24CFF" stroke-width="1.25" stroke-linejoin="round"/>
<polyline points="550.25,53.75 532.2,53.75 532.2,228.2" fill="none" stroke="#A24CFF" stroke-width="1.25" stroke-linejoin="round"/>
<polyline points="599,100.5 582,100.5 551.5,162.4" fill="none" stroke="#A24CFF" stroke-width="1.25" stroke-linejoin="round"/>
<polyline points="703,101.25 673,101.25 656.3,150.2" fill="none" stroke="#A24CFF" stroke-width="1.25" stroke-linejoin="round"/>
<polyline points="792.5,143 762.5,143 653.3,221.8" fill="none" stroke="#A24CFF" stroke-width="1.25" stroke-linejoin="round"/>
<polyline points="771.25,201.5 742.5,201.5 716.75,249.25" fill="none" stroke="#A24CFF" stroke-width="1.25" stroke-linejoin="round"/>
<polyline points="771.25,273 748.75,273 720,302" fill="none" stroke="#A24CFF" stroke-width="1.25" stroke-linejoin="round"/>
<polyline points="596.5,316.4 771.25,316.4" fill="none" stroke="#A24CFF" stroke-width="1.25" stroke-linejoin="round"/>
<polyline points="573.8,357.6 751.25,357.6" fill="none" stroke="#A24CFF" stroke-width="1.25" stroke-linejoin="round"/>
<polyline points="625.2,379.9 681,432.7 751.2,432.7" fill="none" stroke="#A24CFF" stroke-width="1.25" stroke-linejoin="round"/>
<polyline points="603,414 716.7,475.8 727,475.8" fill="none" stroke="#A24CFF" stroke-width="1.25" stroke-linejoin="round"/>
<polyline points="600.8,432.8 661.6,505 669,505" fill="none" stroke="#A24CFF" stroke-width="1.25" stroke-linejoin="round"/>
<polyline points="662.6,538.5 635,538.5 575.9,397.25" fill="none" stroke="#A24CFF" stroke-width="1.25" stroke-linejoin="round"/>
<polyline points="636.5,575 604.7,575 557.5,343.75" fill="none" stroke="#A24CFF" stroke-width="1.25" stroke-linejoin="round"/>
<polyline points="539.7,625.6 511,625.6 563.4,435.3" fill="none" stroke="#A24CFF" stroke-width="1.25" stroke-linejoin="round"/>
<polyline points="470.6,618 479.6,618 529.75,400.9" fill="none" stroke="#A24CFF" stroke-width="1.25" stroke-linejoin="round"/>
<polyline points="418.4,584.7 455.9,584.7 518.5,389.1" fill="none" stroke="#A24CFF" stroke-width="1.25" stroke-linejoin="round"/>
<polyline points="424.4,550.1 432,550.1 438.8,351.4" fill="none" stroke="#A24CFF" stroke-width="1.25" stroke-linejoin="round"/>
<polyline points="369.6,528.4 393.5,528.4 418.9,355.1" fill="none" stroke="#A24CFF" stroke-width="1.25" stroke-linejoin="round"/>
<polyline points="121.9,490 145.2,490 175,477 212.5,438.8" fill="none" stroke="#A24CFF" stroke-width="1.25" stroke-linejoin="round"/>
<polyline points="175,477 333.4,438.8" fill="none" stroke="#A24CFF" stroke-width="1.25" stroke-linejoin="round"/>
<polyline points="169.8,531.9 193.6,531.9 201.3,485.3" fill="none" stroke="#A24CFF" stroke-width="1.25" stroke-linejoin="round"/>
<circle cx="190.7" cy="233.2" r="2.9" fill="#7000FF"/>
<circle cx="419.3" cy="307.9" r="2.9" fill="#7000FF"/>
<circle cx="418.7" cy="223.6" r="2.9" fill="#7000FF"/>
<circle cx="497.3" cy="302.8" r="2.9" fill="#7000FF"/>
<circle cx="551.5" cy="300" r="2.9" fill="#7000FF"/>
<circle cx="532.2" cy="228.2" r="2.9" fill="#7000FF"/>
<circle cx="551.5" cy="162.4" r="2.9" fill="#7000FF"/>
<circle cx="656.3" cy="150.2" r="2.9" fill="#7000FF"/>
<circle cx="653.3" cy="221.8" r="2.9" fill="#7000FF"/>
<circle cx="716.75" cy="249.25" r="2.9" fill="#7000FF"/>
<circle cx="720" cy="302" r="2.9" fill="#7000FF"/>
<circle cx="596.5" cy="316.4" r="2.9" fill="#7000FF"/>
<circle cx="573.8" cy="357.6" r="2.9" fill="#7000FF"/>
<circle cx="625.2" cy="379.9" r="2.9" fill="#7000FF"/>
<circle cx="603" cy="414" r="2.9" fill="#7000FF"/>
<circle cx="600.8" cy="432.8" r="2.9" fill="#7000FF"/>
<circle cx="575.9" cy="397.25" r="2.9" fill="#7000FF"/>
<circle cx="557.5" cy="343.75" r="2.9" fill="#7000FF"/>
<circle cx="563.4" cy="435.3" r="2.9" fill="#7000FF"/>
<circle cx="529.75" cy="400.9" r="2.9" fill="#7000FF"/>
<circle cx="518.5" cy="389.1" r="2.9" fill="#7000FF"/>
<circle cx="438.8" cy="351.4" r="2.9" fill="#7000FF"/>
<circle cx="418.9" cy="355.1" r="2.9" fill="#7000FF"/>
<circle cx="212.5" cy="438.8" r="2.9" fill="#7000FF"/>
<circle cx="333.4" cy="438.8" r="2.9" fill="#7000FF"/>
<circle cx="201.3" cy="485.3" r="2.9" fill="#7000FF"/>
<text x="380.7" y="10">MECH.SEAL</text>
<text x="380.7" y="25.8">ROTARY</text>
<text x="490.9" y="9.5">MECH.SEAL</text>
<text x="490.9" y="25">STATIONARY RING</text>
<text x="534.15" y="51.2">AIR</text>
<text x="534.15" y="67.6">NIPPLE</text>
<text x="583.4" y="98.1">DELIVERY</text>
<text x="583.4" y="113.3">FLANGE</text>
<text x="674.15" y="99">DELIVERY</text>
<text x="674.15" y="114.5">ADAPTOR</text>
<text x="313.9" y="93.75">MOTOR KEY</text>
<text x="284.4" y="126.4">MOTOR FIT HEX</text>
<text x="295.15" y="142.5">BOLT &amp; NUT</text>
<text x="117.2" y="180.1">MOTOR</text>
<text x="763.65" y="140">VOLUTE</text>
<text x="763.15" y="155.75">CASING</text>
<text x="742.65" y="198.75">SUCTION</text>
<text x="742.65" y="214.5">FLANGE</text>
<text x="748.9" y="269.5">SUCTION</text>
<text x="750.15" y="285.75">ADAPTOR</text>
<text x="749.4" y="312.5">&quot;O&quot; RING</text>
<text x="753.15" y="362.3">CERAMIC CUP</text>
<text x="753.3" y="437.9">IMPELLER</text>
<text x="728.2" y="481">BACK PLATE</text>
<text x="668.9" y="508.5">BODY GASKET</text>
<text x="635.9" y="536">ADAPTOR</text>
<text x="635.9" y="551.6">FLANGE</text>
<text x="606.9" y="572.4">SHAFT</text>
<text x="602.4" y="587.7">SLEEVE</text>
<text x="519.4" y="622.6">BODY BOLT&amp;NUT</text>
<text x="519.4" y="638.2">WITH WASHER</text>
<text x="404.3" y="614.5">LOCATING</text>
<text x="412.2" y="631">FLANGE</text>
<text x="242.2" y="581">ADOPTER FLANGE BOLT &amp; NUT</text>
<text x="242.2" y="596.8">WITH ADOPTER WASHER</text>
<text x="376.9" y="553.9">SHAFT</text>
<text x="273.4" y="533.4">GRUB SCREW</text>
<text x="51.4" y="486.6">MOTOR STAND</text>
<text x="67.7" y="502.1">HEX BOLT</text>
<text x="82.4" y="529.3">MOTOR STAND</text>
<text x="99.3" y="545.6">HEX BOLT</text>
</svg>
</body></html>
